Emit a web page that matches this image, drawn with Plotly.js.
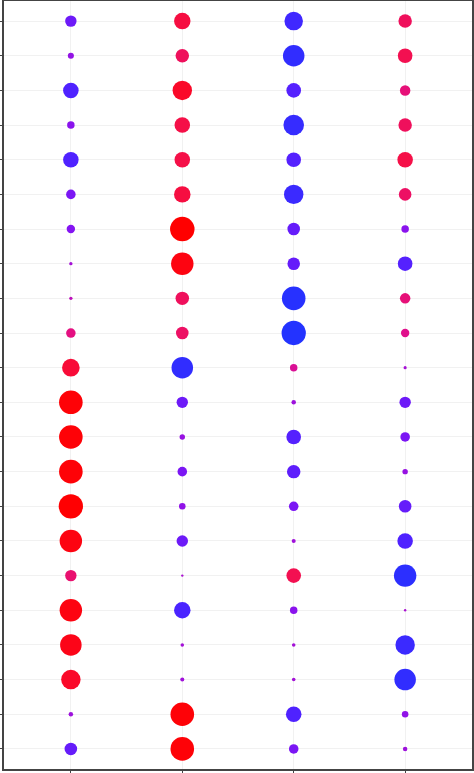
<!DOCTYPE html>
<html>
<head>
<meta charset="utf-8">
<script src="https://cdn.plot.ly/plotly-3.0.1.min.js"></script>
<style>
	html, body { margin: 0; padding: 0; background: #fff; }
	#plot { width: 474px; height: 773px; }
</style>
</head>
<body>
<div id="plot"></div>
<script>
// categories (labels sit outside the visible area)
const xCats = ['C1', 'C2', 'C3', 'C4'];
const yCats = ['V1', 'V2', 'V3', 'V4', 'V5', 'V6', 'V7', 'V8', 'V9', 'V10', 'V11',
	'V12', 'V13', 'V14', 'V15', 'V16', 'V17', 'V18', 'V19', 'V20', 'V21', 'V22'];

// values per column, top row first
const col1 = [-0.43, -0.20, -0.61, -0.26, -0.61, -0.35, -0.30, -0.08, 0.08, 0.35, 0.70,
	0.96, 0.96, 0.96, 0.99, 0.91, 0.43, 0.91, 0.87, 0.78, -0.13, -0.48];
const col2 = [0.65, 0.52, 0.78, 0.61, 0.61, 0.65, 1.00, 0.91, 0.52, 0.48, -0.87,
	-0.43, -0.17, -0.35, -0.22, -0.43, -0.04, -0.65, -0.09, -0.11, 0.96, 0.96];
const col3 = [-0.74, -0.87, -0.57, -0.83, -0.57, -0.78, -0.48, -0.48, -0.96, -0.99, 0.26,
	-0.13, -0.57, -0.52, -0.35, -0.11, 0.57, -0.26, -0.09, -0.09, -0.61, -0.35];
const col4 = [0.52, 0.57, 0.39, 0.52, 0.61, 0.48, -0.26, -0.57, 0.39, 0.30, -0.07,
	-0.43, -0.35, -0.17, -0.48, -0.61, -0.91, -0.04, -0.78, -0.87, -0.22, -0.13];

const columns = [col1, col2, col3, col4];

let xs = [], ys = [], vals = [];
columns.forEach(function(col, i) {
	col.forEach(function(v, j) {
		xs.push(xCats[i]);
		ys.push(yCats[j]);
		vals.push(v);
	});
});

// dot diameter follows |value|
const sizes = vals.map(function(v) { return 1.5 + 23 * Math.abs(v); });

const trace = {
	x: xs,
	y: ys,
	mode: 'markers',
	type: 'scatter',
	hoverinfo: 'x+y+text',
	text: vals.map(String),
	marker: {
		size: sizes,
		opacity: 1,
		color: vals,
		cmin: -1,
		cmax: 1,
		colorscale: [
			[0, '#2233ff'],
			[0.2, '#5022ff'],
			[0.35, '#8414f2'],
			[0.5, '#b010cc'],
			[0.65, '#e0108c'],
			[0.8, '#f5104a'],
			[1, '#ff0000']
		],
		showscale: false,
		line: {width: 0}
	}
};

const axisStyle = {
	type: 'category',
	showline: true,
	mirror: true,
	linecolor: '#444',
	linewidth: 2,
	ticks: 'outside',
	ticklen: 4,
	tickcolor: '#444',
	showticklabels: false,
	showgrid: true,
	gridcolor: '#f1f1f1',
	gridwidth: 1,
	zeroline: false
};

const layout = {
	width: 474,
	height: 773,
	margin: {l: 4, r: 2, t: 1, b: 4},
	paper_bgcolor: '#fff',
	plot_bgcolor: '#fff',
	showlegend: false,
	xaxis: Object.assign({}, axisStyle, {categoryarray: xCats, categoryorder: 'array', range: [-0.6, 3.6]}),
	yaxis: Object.assign({}, axisStyle, {categoryarray: yCats, categoryorder: 'array', range: [21.58, -0.58]})
};

Plotly.newPlot('plot', [trace], layout, {displayModeBar: false});
</script>
</body>
</html>
